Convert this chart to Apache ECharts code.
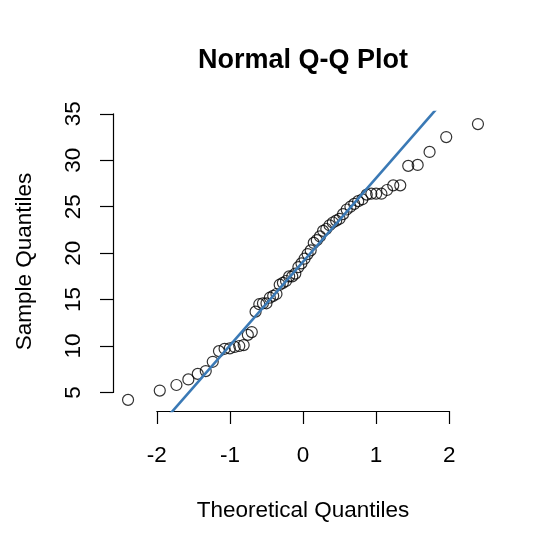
<!DOCTYPE html>
<html>
<head>
<meta charset="utf-8">
<script src="https://cdn.jsdelivr.net/npm/echarts@6/dist/echarts.min.js"></script>
<style>
  html, body { margin: 0; padding: 0; background: #fff; }
  #chart { width: 552px; height: 552px; }
</style>
</head>
<body>
<div id="chart"></div>
<script>
// theoretical quantiles (x) and sorted sample values (y)
var theoQ = [-2.394, -1.960, -1.732, -1.569, -1.440, -1.331, -1.235, -1.150, -1.073, -1.001,
    -0.935, -0.872, -0.812, -0.755, -0.701, -0.649, -0.598, -0.548, -0.500, -0.454,
    -0.408, -0.363, -0.319, -0.275, -0.232, -0.189, -0.147, -0.105, -0.063, -0.021,
    0.021, 0.063, 0.105, 0.147, 0.189, 0.232, 0.275, 0.319, 0.363, 0.408,
    0.454, 0.500, 0.548, 0.598, 0.649, 0.701, 0.755, 0.812, 0.872, 0.935,
    1.001, 1.073, 1.150, 1.235, 1.331, 1.440, 1.569, 1.732, 1.960, 2.394];
var sampleQ = [4.2, 5.2, 5.8, 6.4, 7.0, 7.3, 8.3, 9.45, 9.7, 9.75,
    9.9, 10.0, 10.1, 11.2, 11.5, 13.7, 14.5, 14.6, 14.6, 15.2,
    15.4, 15.6, 16.6, 16.8, 17.0, 17.5, 17.5, 17.8, 18.5, 18.9,
    19.4, 19.9, 20.3, 21.1, 21.4, 21.8, 22.4, 22.6, 23.0, 23.3,
    23.5, 23.7, 24.2, 24.7, 25.0, 25.3, 25.6, 25.8, 26.3, 26.4,
    26.4, 26.4, 26.8, 27.3, 27.3, 29.4, 29.5, 30.9, 32.5, 33.9];
// qqline end points (clipped by the plot region)
var lineX = [-2.6, 2.6];
var lineY = [-4.36, 42.5];
var xTicks = [-2, 2, 1];   // min, max, step
var yTicks = [5, 35, 5];

// plot region (R style: 4% padding around data, axes drawn only over tick range)
var plotLeft = 113, plotTop = 112, plotW = 380, plotH = 299;
var xMin = -2.6, xMax = 2.6, yMin = 3.0, yMax = 35.2;
var font = 'Liberation Sans, Arial, Helvetica, sans-serif';

function xPix(v) { return plotLeft + (v - xMin) / (xMax - xMin) * plotW; }
function yPix(v) { return plotTop + (yMax - v) / (yMax - yMin) * plotH; }

var pts = theoQ.map(function (x, i) { return [x, sampleQ[i]]; });
var qqLine = lineX.map(function (x, i) { return [x, lineY[i]]; });

var chart = echarts.init(document.getElementById('chart'));
var axisStyle = { color: '#000', width: 1.2 };
var option = {
    animation: false,
    backgroundColor: '#fff',
    textStyle: { fontFamily: font },
    title: {
        text: 'Normal Q-Q Plot',
        left: 303,
        textAlign: 'center',
        top: 47,
        padding: 0,
        textStyle: { fontSize: 27, fontWeight: 'bold', color: '#000', fontFamily: font }
    },
    grid: [
        { left: plotLeft, top: plotTop, width: plotW, height: plotH },
        // x axis over tick range only
        { left: xPix(xTicks[0]), top: plotTop, width: xPix(xTicks[1]) - xPix(xTicks[0]), height: plotH },
        // y axis over tick range only
        { left: plotLeft, top: yPix(yTicks[1]), width: plotW, height: yPix(yTicks[0]) - yPix(yTicks[1]) }
    ],
    xAxis: [
        {
            gridIndex: 0, type: 'value', min: xMin, max: xMax,
            axisLine: { show: false }, axisTick: { show: false }, axisLabel: { show: false },
            splitLine: { show: false },
            name: 'Theoretical Quantiles', nameLocation: 'middle', nameGap: 88,
            nameTextStyle: { fontSize: 22.5, color: '#000', fontFamily: font }
        },
        {
            gridIndex: 1, type: 'value', min: xTicks[0], max: xTicks[1], interval: xTicks[2],
            axisLine: { show: true, onZero: false, lineStyle: axisStyle },
            axisTick: { show: true, length: 13, lineStyle: axisStyle },
            axisLabel: { fontSize: 22.5, color: '#000', margin: 33, fontFamily: font },
            splitLine: { show: false }
        },
        { gridIndex: 2, type: 'value', show: false, min: xMin, max: xMax }
    ],
    yAxis: [
        {
            gridIndex: 0, type: 'value', min: yMin, max: yMax,
            axisLine: { show: false }, axisTick: { show: false }, axisLabel: { show: false },
            splitLine: { show: false },
            name: 'Sample Quantiles', nameLocation: 'middle', nameGap: 77,
            nameTextStyle: { fontSize: 22.5, color: '#000', fontFamily: font }
        },
        { gridIndex: 1, type: 'value', show: false, min: yMin, max: yMax },
        {
            gridIndex: 2, type: 'value', min: yTicks[0], max: yTicks[1], interval: yTicks[2],
            axisLine: { show: true, onZero: false, lineStyle: axisStyle },
            axisTick: { show: true, length: 13, lineStyle: axisStyle },
            axisLabel: { fontSize: 22.5, color: '#000', margin: 28, rotate: 90, fontFamily: font },
            splitLine: { show: false }
        }
    ],
    series: [
        {
            type: 'scatter', xAxisIndex: 0, yAxisIndex: 0,
            data: pts,
            symbol: 'circle', symbolSize: 11,
            itemStyle: { color: 'rgba(0,0,0,0)', borderColor: '#000', borderWidth: 1.2 },
            silent: true
        },
        {
            type: 'line', xAxisIndex: 0, yAxisIndex: 0,
            data: qqLine,
            symbol: 'none', clip: true,
            lineStyle: { color: '#3a79b5', width: 2.6 },
            silent: true
        }
    ]
};
chart.setOption(option);
</script>
</body>
</html>
